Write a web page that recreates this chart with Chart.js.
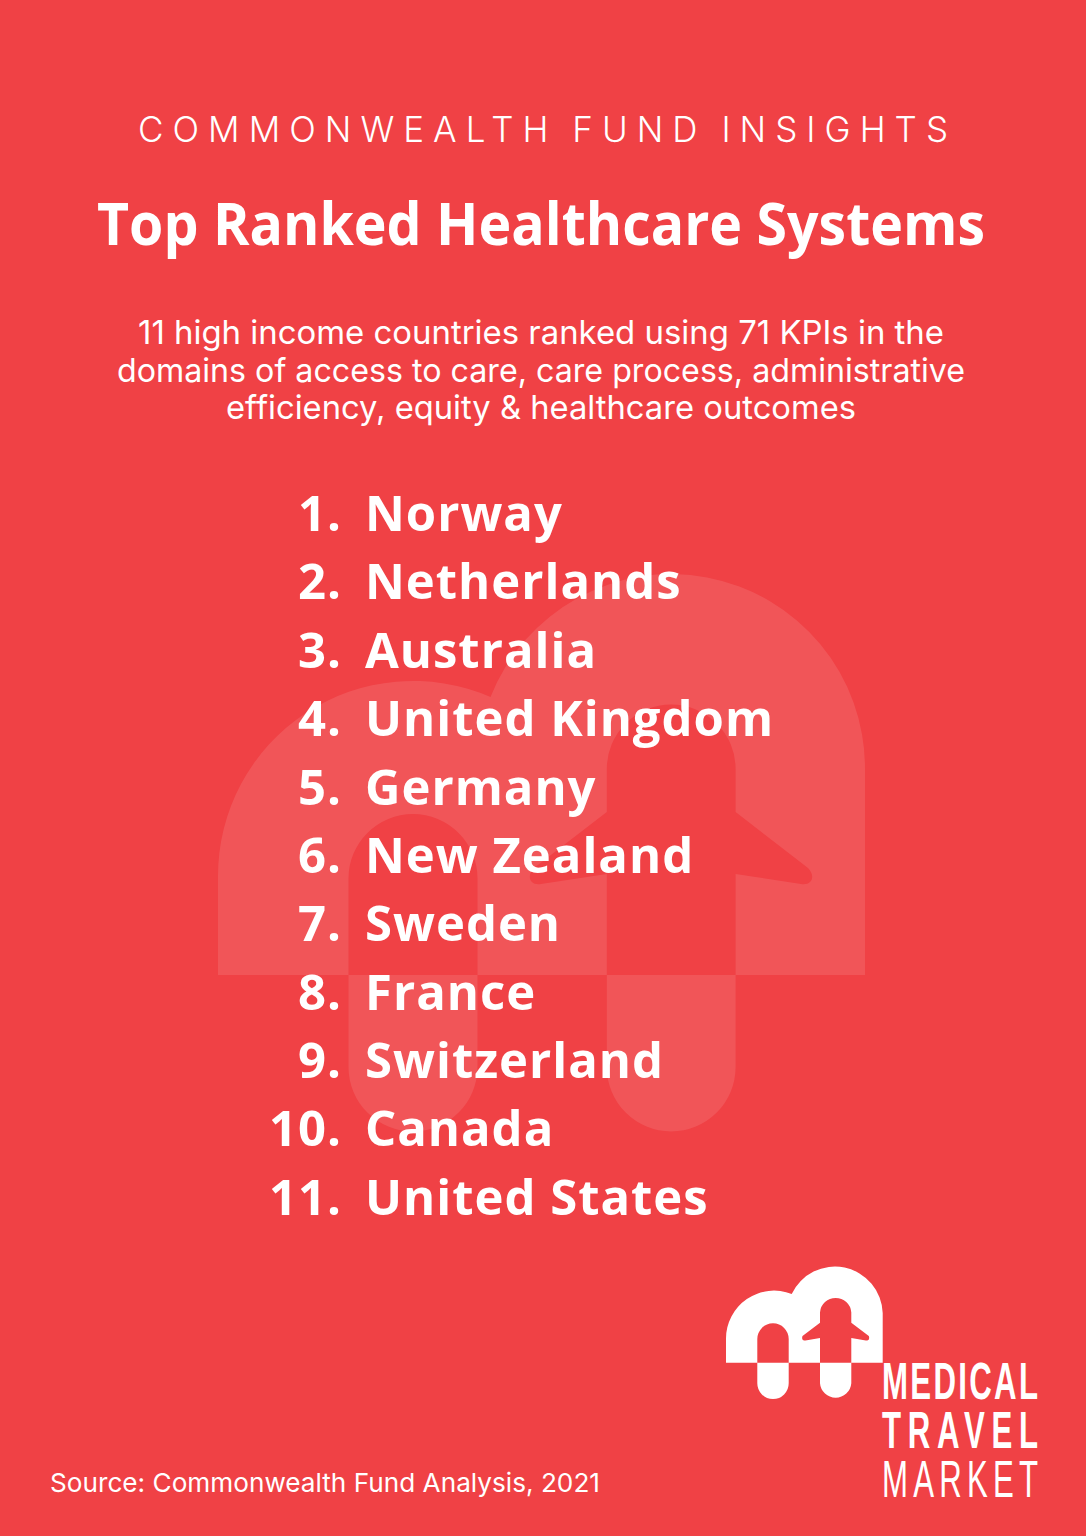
<!DOCTYPE html>
<html lang="en">

<head>
  <meta charset="UTF-8">
  <title>Top Ranked Healthcare Systems</title>
  <script src="https://cdn.jsdelivr.net/npm/chart.js"></script>
  <style>
    html, body { margin: 0; padding: 0; background: #f04145; overflow: hidden; }
    #page { position: relative; width: 1086px; height: 1536px; }
    #decor, #graphique { position: absolute; left: 0; top: 0; }
    .sans { font-family: Inter, sans-serif; fill: #fff; }
    .head { font-family: "Open Sans", sans-serif; font-weight: 700; fill: #fff; }
    .brand { font-family: "Liberation Sans", sans-serif; fill: #fff; }
  </style>
</head>

<body>
  <div id="page">
    <svg id="decor" width="1086" height="1536" viewBox="0 0 1086 1536">
      <!-- filigrane -->
      <path fill="#fff" opacity="0.105" fill-rule="evenodd" d="M218 975 V877 A195 195 0 0 1 490.5 697 A194 194 0 0 1 865 768 V975 Z
        M348.5 975 V878.5 A64.5 64.5 0 0 1 477.5 878.5 V975 Z
        M606.8 975 V874 L541 884 C530 886 526 876 534 868 L606.8 812 V769 A64.4 64.4 0 0 1 735.6 769 V812 L808 868 C816 876 812 886 801 884 L735.6 874 V975 Z
        M348.5 975 H477.5 V1067 A64.5 64.5 0 0 1 348.5 1067 Z
        M606.8 975 H735.6 V1067 A64.4 64.4 0 0 1 606.8 1067 Z" />
      <!-- logo -->
      <path fill="#fff" fill-rule="evenodd" d="M726 1362.7 V1339 A48 48 0 0 1 791.7 1294 A47.8 47.8 0 0 1 882.7 1313 V1362.7 Z
        M757.3 1362.7 V1339 A15.7 15.7 0 0 1 788.7 1339 V1362.7 Z
        M820 1362.7 V1338 L805.5 1340.6 Q801 1340.6 802.5 1336 L820 1322.7 V1312.4 A15.7 15.7 0 0 1 851.3 1312.4 V1322.7 L868.8 1336 Q870.3 1340.6 865.8 1340.6 L851.3 1338 V1362.7 Z
        M757.3 1362.7 H788.7 V1383.3 A15.7 15.7 0 0 1 757.3 1383.3 Z
        M820 1362.7 H851.3 V1383.3 A15.7 15.7 0 0 1 820 1383.3 Z" />

      <text class="sans" x="138" y="142" font-size="35" font-weight="300" word-spacing="-4" textLength="810" lengthAdjust="spacing">COMMONWEALTH FUND INSIGHTS</text>
      <text class="head" x="97" y="245" font-size="59" textLength="888" lengthAdjust="spacingAndGlyphs">Top Ranked Healthcare Systems</text>
      <text class="sans" x="138" y="344" font-size="33" textLength="806" lengthAdjust="spacingAndGlyphs">11 high income countries ranked using 71 KPIs in the</text>
      <text class="sans" x="117" y="382" font-size="33" textLength="848" lengthAdjust="spacingAndGlyphs">domains of access to care, care process, administrative</text>
      <text class="sans" x="226" y="419" font-size="33" textLength="630" lengthAdjust="spacingAndGlyphs">efficiency, equity &amp; healthcare outcomes</text>
      <text class="sans" x="50" y="1492" font-size="26" textLength="550" lengthAdjust="spacingAndGlyphs">Source: Commonwealth Fund Analysis, 2021</text>

      <text class="brand" transform="translate(882 1399) scale(.6 1)" font-size="52" font-weight="700" textLength="260" lengthAdjust="spacing">MEDICAL</text>
      <text class="brand" transform="translate(882 1448) scale(.6 1)" font-size="52" font-weight="700" textLength="260" lengthAdjust="spacing">TRAVEL</text>
      <text class="brand" transform="translate(882 1497) scale(.6 1)" font-size="52" font-weight="400" textLength="260" lengthAdjust="spacing">MARKET</text>
    </svg>
    <canvas id="graphique" width="1086" height="1536"></canvas>
  </div>

  <script>
    const rankLabels = ['1.', '2.', '3.', '4.', '5.', '6.', '7.', '8.', '9.', '10.', '11.'];
    const countries = ['Norway', 'Netherlands', 'Australia', 'United Kingdom', 'Germany', 'New Zealand',
      'Sweden', 'France', 'Switzerland', 'Canada', 'United States'];
    const ranks = [1, 2, 3, 4, 5, 6, 7, 8, 9, 10, 11];

    const listFont = { family: '"Open Sans", sans-serif', size: 49, weight: '700' };

    // Chart.js has no letter spacing option, set it on the context
    const espacement = {
      id: 'espacement',
      beforeDraw(chart) { chart.ctx.letterSpacing = '1px'; }
    };

    new Chart(document.getElementById('graphique'), {
      type: 'bar',
      plugins: [espacement],
      data: {
        labels: rankLabels,
        datasets: [{
          label: 'Rank',
          data: ranks,
          backgroundColor: 'transparent',
          borderWidth: 0,
          yAxisID: 'y'
        }]
      },
      options: {
        indexAxis: 'y',
        animation: false,
        responsive: false,
        layout: { padding: { top: 483, bottom: 301 } },
        plugins: {
          legend: { display: false },
          tooltip: { enabled: false }
        },
        scales: {
          x: { display: false, min: 0, max: 11 },
          y: {
            type: 'category',
            position: 'left',
            afterFit: s => { s.width = 346; },
            grid: { display: false, drawTicks: false },
            border: { display: false },
            ticks: { color: '#fff', font: listFont, padding: 4, autoSkip: false }
          },
          yPays: {
            type: 'category',
            axis: 'y',
            position: 'right',
            labels: countries,
            afterFit: s => { s.width = 724; },
            grid: { display: false, drawTicks: false },
            border: { display: false },
            ticks: { color: '#fff', font: listFont, padding: 3, autoSkip: false }
          }
        }
      }
    });
  </script>
</body>

</html>
